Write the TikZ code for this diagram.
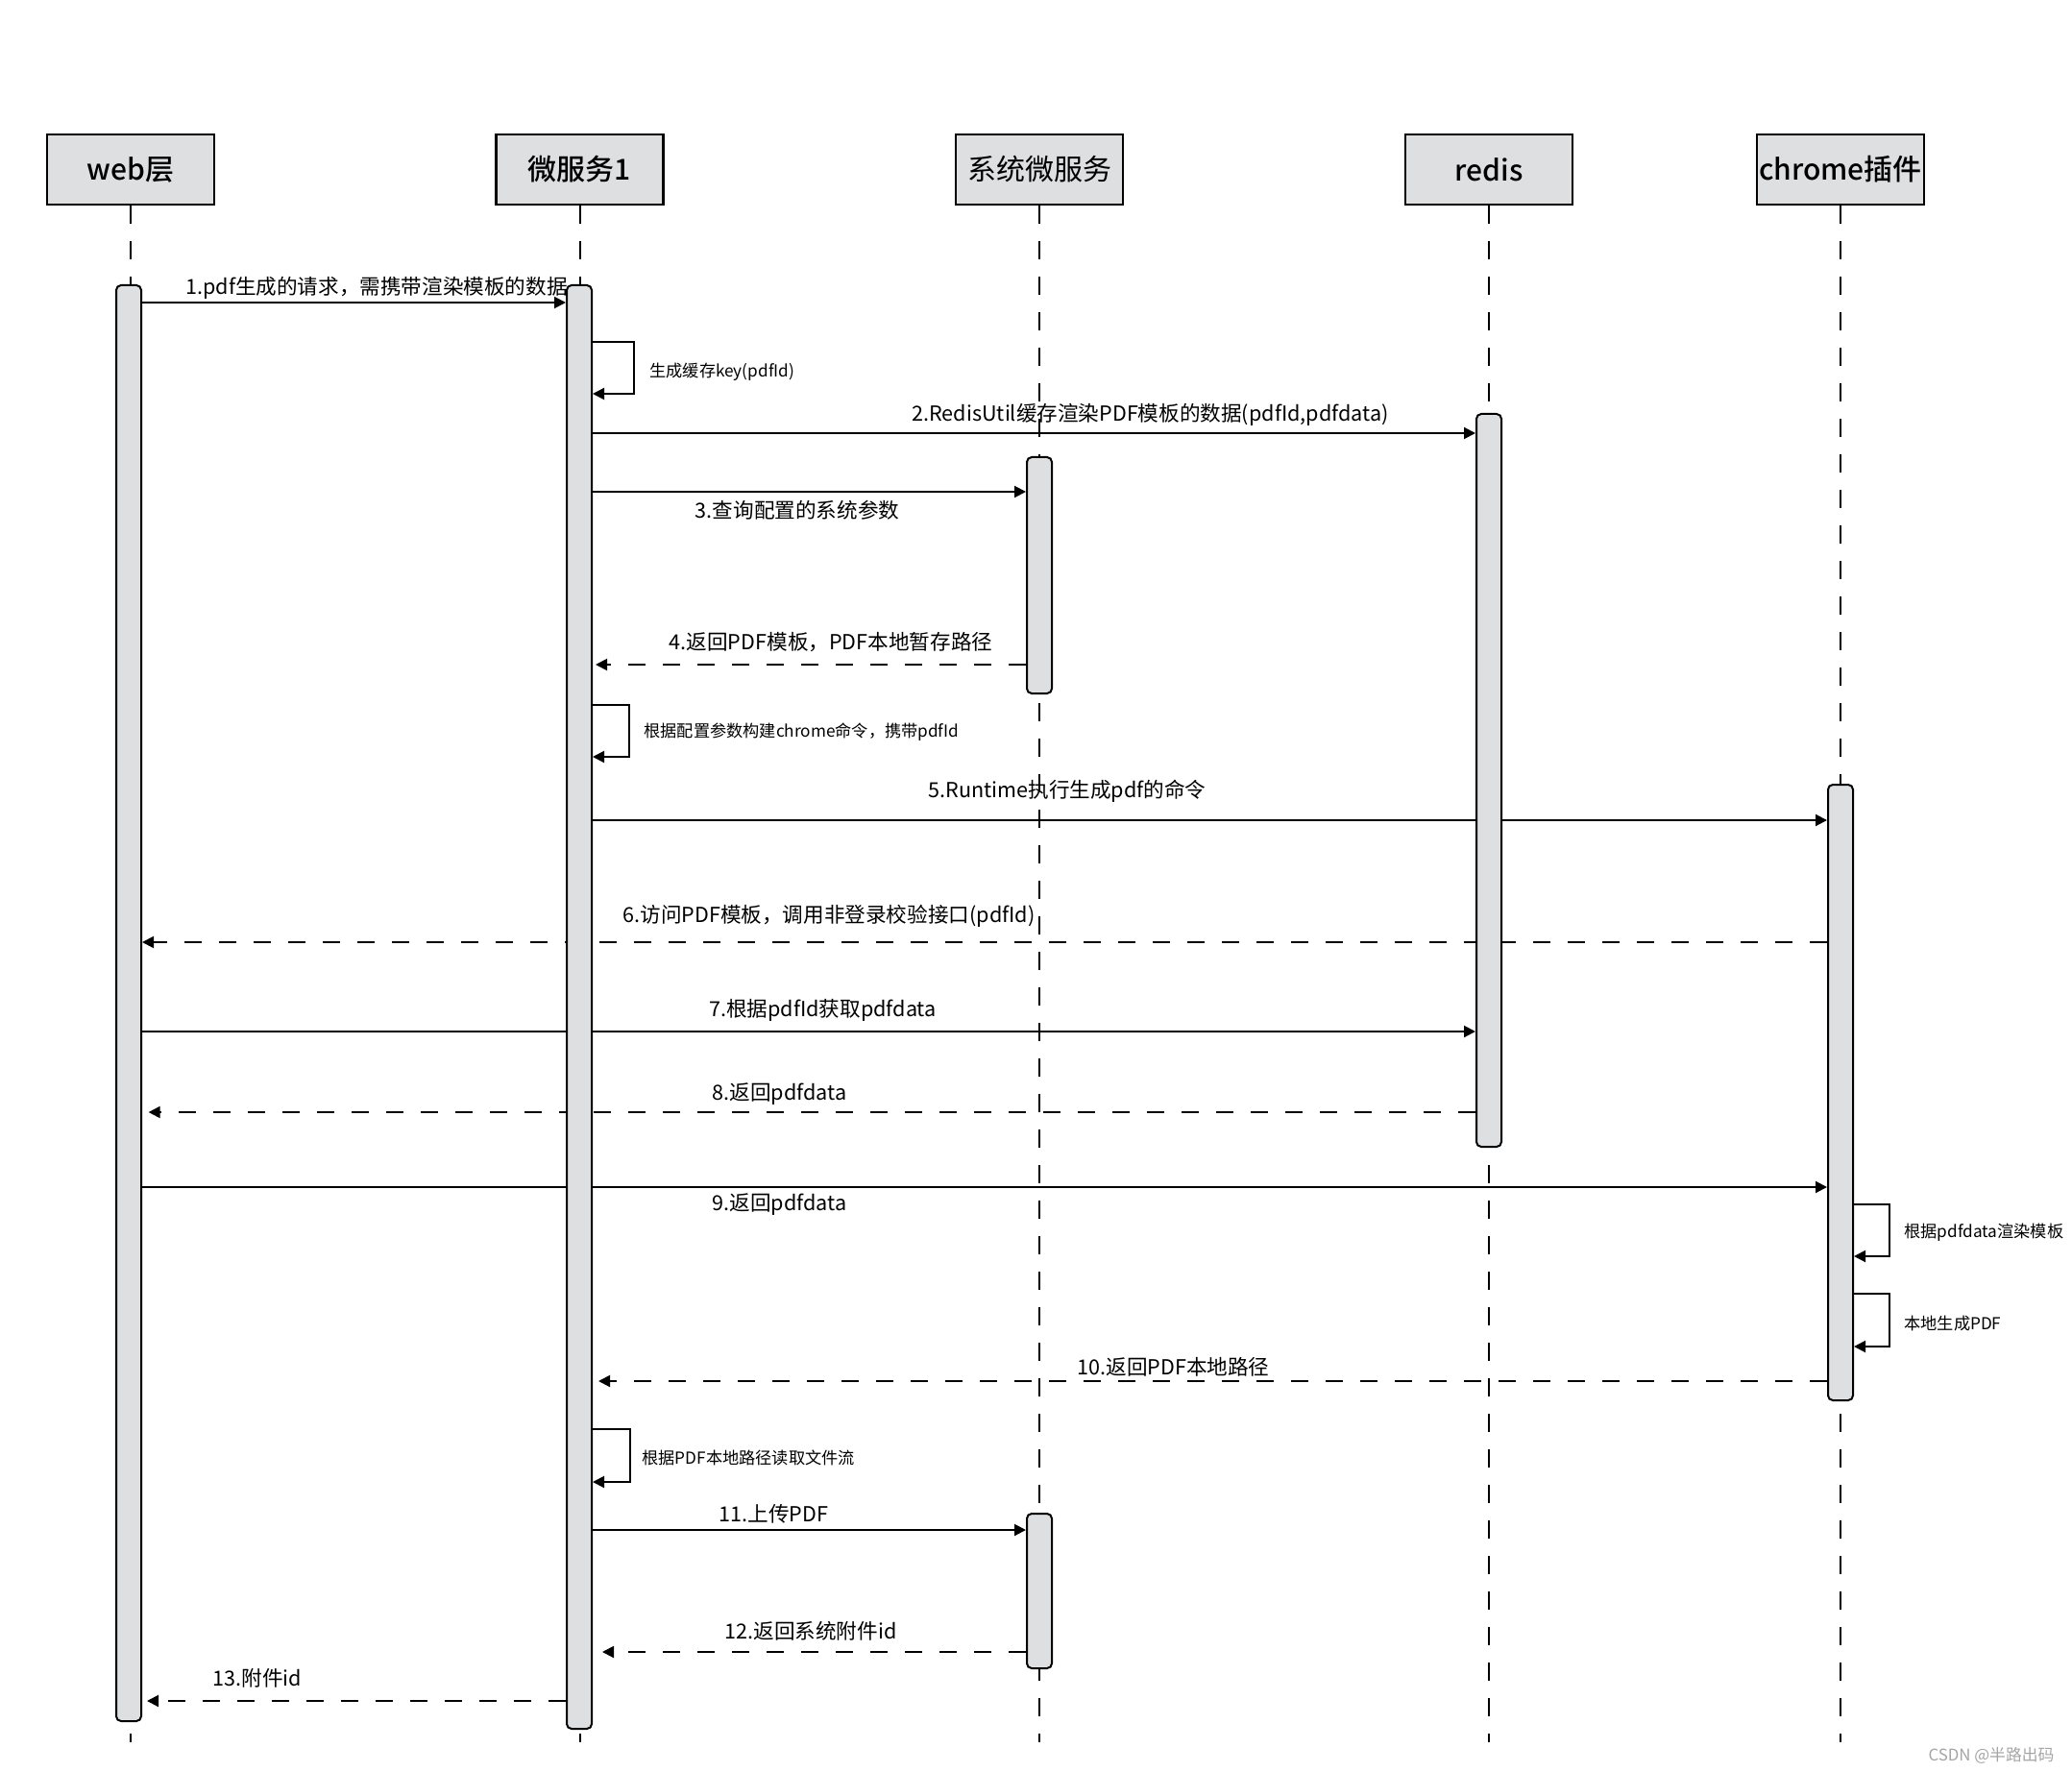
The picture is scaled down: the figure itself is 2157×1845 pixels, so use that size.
\documentclass[tikz,border=0pt]{standalone}
\usepackage{fontspec}
\setmainfont{Noto Sans CJK SC}
\newfontfamily\headfont{Noto Sans CJK SC Medium}
\usepackage{tikz}
\usetikzlibrary{positioning,arrows.meta,backgrounds}

\definecolor{boxgray}{RGB}{222,223,225}
\definecolor{markgray}{RGB}{165,165,165}

\begin{document}
\begin{tikzpicture}[
    x=0.5pt, y=-0.5pt,
    >={Triangle[length=6pt,width=6pt]},
    headbox/.style={draw,line width=1.3pt,fill=boxgray,minimum width=87pt,minimum height=36.5pt,inner sep=0pt,font=\fontsize{15}{18}\selectfont},
    actbar/.style={draw,line width=1pt,fill=boxgray,rounded corners=2.5pt,minimum width=13pt,inner sep=0pt},
    lifeline/.style={line width=1pt,dash pattern=on 9.5pt off 9pt},
    callline/.style={->,line width=1pt},
    retline/.style={->,line width=1pt,dash pattern=on 9pt off 9pt},
    msglabel/.style={inner sep=0pt,font=\fontsize{10.8}{13}\selectfont},
    selfnote/.style={inner sep=0pt,anchor=west,font=\fontsize{8.6}{10}\selectfont}
]
\useasboundingbox (0,0) rectangle (2157,1845);

\node[headbox] (web) at (136,176.5) {\headfont web层};
\node[headbox] (ms1) at (603.5,176.5) {\headfont 微服务1};
\node[headbox] (sys) at (1082,176.5) {系统微服务};
\node[headbox] (redis) at (1550,176.5) {\headfont redis};
\node[headbox] (chrome) at (1916,176.5) {\headfont chrome插件};

\node[actbar,minimum height=747.5pt] (webA) at (134,1044.5) {};
\node[actbar,minimum height=751.5pt] (ms1A) at (603,1048.5) {};
\node[actbar,minimum height=123pt] (sysA) at (1082,599) {};
\node[actbar,minimum height=80.5pt] (sysB) at (1082,1656.5) {};
\node[actbar,minimum height=381.5pt] (redisA) at (1550,812.5) {};
\node[actbar,minimum height=320.5pt] (chromeA) at (1916,1137.5) {};

\begin{scope}[on background layer]
\foreach \n in {web,ms1,sys,redis,chrome}
    \draw[lifeline] (\n.south) -- (\n.south |- 0,1814);

\draw[callline] (webA.east |- 0,315) -- (ms1A.west |- 0,315);
\draw[callline] (ms1A.east |- 0,356) -- ++(21.5pt,0) |- (ms1A.east |- 0,410);
\draw[callline] (ms1A.east |- 0,451) -- (redisA.west |- 0,451);
\draw[callline] (ms1A.east |- 0,512) -- (sysA.west |- 0,512);
\draw[retline,shorten >=1.5pt] (sysA.west |- 0,692) -- (ms1A.east |- 0,692);
\draw[callline] (ms1A.east |- 0,734) -- ++(19pt,0) |- (ms1A.east |- 0,788);
\draw[callline] (ms1A.east |- 0,854) -- (chromeA.west |- 0,854);
\draw[retline] (chromeA.west |- 0,981) -- (webA.east |- 0,981);
\draw[callline] (webA.east |- 0,1074) -- (redisA.west |- 0,1074);
\draw[retline,shorten >=3.3pt] (redisA.west |- 0,1158) -- (webA.east |- 0,1158);
\draw[callline] (webA.east |- 0,1236) -- (chromeA.west |- 0,1236);
\draw[callline] (chromeA.east |- 0,1254) -- ++(18.5pt,0) |- (chromeA.east |- 0,1308);
\draw[callline] (chromeA.east |- 0,1347) -- ++(18.5pt,0) |- (chromeA.east |- 0,1402);
\draw[retline,shorten >=3pt] (chromeA.west |- 0,1438) -- (ms1A.east |- 0,1438);
\draw[callline] (ms1A.east |- 0,1488) -- ++(19.5pt,0) |- (ms1A.east |- 0,1543);
\draw[callline] (ms1A.east |- 0,1593) -- (sysB.west |- 0,1593);
\draw[retline,shorten >=5pt] (sysB.west |- 0,1720) -- (ms1A.east |- 0,1720);
\draw[retline,shorten >=2.5pt] (ms1A.west |- 0,1771) -- (webA.east |- 0,1771);
\end{scope}

\node[msglabel] (l1) at (392,300) {1.pdf生成的请求，需携带渲染模板的数据};
\node[selfnote] (n1) at (676,387) {生成缓存key(pdfId)};
\node[msglabel] (l2) at (1197.5,432) {2.RedisUtil缓存渲染PDF模板的数据(pdfId,pdfdata)};
\node[msglabel] (l3) at (830,531) {3.查询配置的系统参数};
\node[msglabel] (l4) at (865,669) {4.返回PDF模板，PDF本地暂存路径};
\node[selfnote] (n2) at (670,762) {根据配置参数构建chrome命令，携带pdfId};
\node[msglabel] (l5) at (1111,824) {5.Runtime执行生成pdf的命令};
\node[msglabel] (l6) at (863,954) {6.访问PDF模板，调用非登录校验接口(pdfId)};
\node[msglabel] (l7) at (856.5,1052) {7.根据pdfId获取pdfdata};
\node[msglabel] (l8) at (811.5,1139) {8.返回pdfdata};
\node[msglabel] (l9) at (811.5,1254) {9.返回pdfdata};
\node[selfnote] (n3) at (1982,1283) {根据pdfdata渲染模板};
\node[selfnote] (n4) at (1982,1378) {本地生成PDF};
\node[msglabel] (l10) at (1221.5,1423) {10.返回PDF本地路径};
\node[selfnote] (n5) at (668,1518) {根据PDF本地路径读取文件流};
\node[msglabel] (l11) at (805.5,1576) {11.上传PDF};
\node[msglabel] (l12) at (844,1698) {12.返回系统附件id};
\node[msglabel] (l13) at (268,1747) {13.附件id};

\node[inner sep=0pt,text=markgray,font=\fontsize{8.4}{10}\selectfont] (mark) at (2073,1828) {CSDN @半路出码};

\end{tikzpicture}
\end{document}
